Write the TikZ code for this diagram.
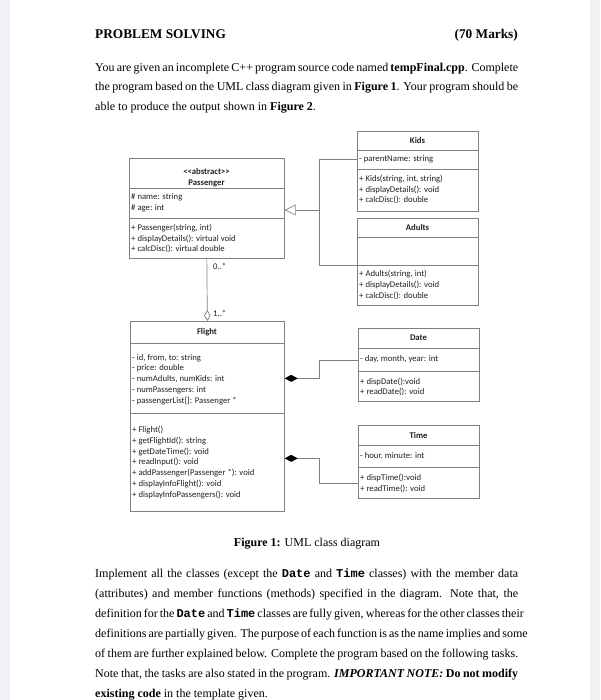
\documentclass[tikz,border=0pt]{standalone}
\usepackage{fontspec}
\setmainfont{Liberation Serif}
\newfontfamily\umlfont{Carlito}
\newfontfamily\codefont{Liberation Mono}
\usetikzlibrary{arrows.meta,calc}
\definecolor{umlline}{gray}{0.5}
\definecolor{umltext}{gray}{0.12}
\definecolor{pageedge}{RGB}{241,241,246}
\newcommand{\cdw}[1]{{\codefont\bfseries #1}}
\begin{document}
\begin{tikzpicture}[x=1pt,y=-1pt,
  cls/.style={draw=umlline, line width=0.7pt, inner sep=0pt, anchor=north west},
  umltxt/.style={font=\umlfont\fontsize{8.7}{10.8}\selectfont, text=umltext, inner sep=0pt, align=left, anchor=west},
  umltitle/.style={font=\umlfont\bfseries\fontsize{8.7}{11}\selectfont, text=umltext, inner sep=0pt, align=center},
  conn/.style={draw=umlline, line width=0.7pt},
  body/.style={font=\fontsize{12}{14}\selectfont, inner sep=0pt, anchor=base west},
  head/.style={font=\fontsize{13.3}{15}\selectfont\bfseries, inner sep=0pt, anchor=base west},
]
\useasboundingbox (0,0) rectangle (600,700);
\fill[pageedge] (0,0) rectangle (10,700);
\fill[pageedge] (590,0) rectangle (600,700);

% header and first paragraph
\node[head] (h1) at (95,39) {PROBLEM SOLVING};
\node[head, anchor=base east] (h2) at (518,39) {(70 Marks)};
\node[body] (p1a) at (95,72) {\makebox[423pt][s]{You are given an incomplete C++ program source code named \textbf{tempFinal.cpp}. Complete}};
\node[body] (p1b) at (95,91) {\makebox[423pt][s]{the program based on the UML class diagram given in \textbf{Figure 1}. Your program should be}};
\node[body] (p1c) at (95,111) {able to produce the output shown in \textbf{Figure 2}.};

% Passenger
\node[cls, minimum width=155pt, minimum height=30pt] (passN) at (129,158) {};
\node[cls, minimum width=155pt, minimum height=30pt] (passA) at (129,188) {};
\node[cls, minimum width=155pt, minimum height=40pt] (passM) at (129,218) {};
\node[umltitle] (passT) at (206.5,177.5) {<<abstract>>\\Passenger};
\node[umltxt] (passAt) at (131,203) {\# name: string\\\# age: int};
\node[umltxt] (passMt) at (131,238.5) {+ Passenger(string, int)\\+ displayDetails(): virtual void\\+ calcDisc(): virtual double};

% Kids
\node[cls, minimum width=121pt, minimum height=19pt] (kidsN) at (357,131) {};
\node[cls, minimum width=121pt, minimum height=19pt] (kidsA) at (357,150) {};
\node[cls, minimum width=121pt, minimum height=42pt] (kidsM) at (357,169) {};
\node[umltitle] (kidsT) at (417.5,140.5) {Kids};
\node[umltxt] (kidsAt) at (359,159.5) {- parentName: string};
\node[umltxt] (kidsMt) at (359,189.5) {+ Kids(string, int, string)\\+ displayDetails(): void\\+ calcDisc(): double};

% Adults
\node[cls, minimum width=121pt, minimum height=19pt] (adN) at (357,218) {};
\node[cls, minimum width=121pt, minimum height=28pt] (adA) at (357,237) {};
\node[cls, minimum width=121pt, minimum height=40pt] (adM) at (357,265) {};
\node[umltitle] (adT) at (417.5,227.5) {Adults};
\node[umltxt] (adMt) at (359,285) {+ Adults(string, int)\\+ displayDetails(): void\\+ calcDisc(): double};

% Flight
\node[cls, minimum width=154pt, minimum height=22pt] (flN) at (130,321) {};
\node[cls, minimum width=154pt, minimum height=70pt] (flA) at (130,343) {};
\node[cls, minimum width=154pt, minimum height=98pt] (flM) at (130,413) {};
\node[umltitle] (flT) at (207,332) {Flight};
\node[umltxt] (flAt) at (132,379.5) {- id, from, to: string\\- price: double\\- numAdults, numKids: int\\- numPassengers: int\\- passengerList[]: Passenger *};
\node[umltxt] (flMt) at (132,462.5) {+ Flight()\\+ getFlightId(): string\\+ getDateTime(): void\\+ readInput(): void\\+ addPassenger(Passenger *): void\\+ displayInfoFlight(): void\\+ displayInfoPassengers(): void};

% Date
\node[cls, minimum width=121pt, minimum height=20pt] (dtN) at (358,328) {};
\node[cls, minimum width=121pt, minimum height=23pt] (dtA) at (358,348) {};
\node[cls, minimum width=121pt, minimum height=30pt] (dtM) at (358,371) {};
\node[umltitle] (dtT) at (418.5,338) {Date};
\node[umltxt] (dtAt) at (360,359.5) {- day, month, year: int};
\node[umltxt] (dtMt) at (360,387) {+ dispDate():void\\+ readDate(): void};

% Time
\node[cls, minimum width=121pt, minimum height=20pt] (tmN) at (358,425) {};
\node[cls, minimum width=121pt, minimum height=22pt] (tmA) at (358,445) {};
\node[cls, minimum width=121pt, minimum height=31pt] (tmM) at (358,467) {};
\node[umltitle] (tmT) at (418.5,435) {Time};
\node[umltxt] (tmAt) at (360,456) {- hour, minute: int};
\node[umltxt] (tmMt) at (360,483.5) {+ dispTime():void\\+ readTime(): void};

% generalization
\coordinate (gj) at (319,210);
\draw[conn] (kidsA.west) -- (kidsA.west -| gj) -- (adM.north west -| gj) -- (adM.north west);
\draw[conn, -{Triangle[open, length=11pt, width=11pt, fill=white]}] (gj) -- (gj -| passA.east);

% aggregation
\draw[conn, -{Diamond[open, length=11pt, width=6.5pt, fill=white]}] (passM.south) -- (flN.north);
\node[umltxt] (m1) at (213,266) {0..*};
\node[umltxt] (m2) at (213,313.5) {1..*};

% compositions
\draw[conn, {Diamond[length=13pt, width=7pt, fill=black, color=black]}-] (flA.east) -- ++(35,0) |- (dtA.west);
\coordinate (ft) at ($(flM.east)+(0,-4)$);
\draw[conn, {Diamond[length=13pt, width=7pt, fill=black, color=black]}-] (ft) -- ++(35,0) |- (tmM.west);

% caption and second paragraph
\node[body, anchor=base] (cap) at (307,546) {\textbf{Figure 1:} UML class diagram};
\node[body] (q1) at (95,577) {\makebox[423pt][s]{Implement all the classes (except the \cdw{Date} and \cdw{Time} classes) with the member data}};
\node[body] (q2) at (95,597) {\makebox[423pt][s]{(attributes) and member functions (methods) specified in the diagram. Note that, the}};
\node[body] (q3) at (95,617) {\makebox[423pt][s]{definition for the \cdw{Date} and \cdw{Time} classes are fully given, whereas for the other classes their}};
\node[body] (q4) at (95,637) {\makebox[423pt][s]{definitions are partially given. The purpose of each function is as the name implies and some}};
\node[body] (q5) at (95,657) {\makebox[423pt][s]{of them are further explained below. Complete the program based on the following tasks.}};
\node[body] (q6) at (95,677) {\makebox[423pt][s]{Note that, the tasks are also stated in the program. \textbf{\textit{IMPORTANT NOTE:}} \textbf{Do not modify}}};
\node[body] (q7) at (95,697) {\textbf{existing code} in the template given.};
\end{tikzpicture}
\end{document}
